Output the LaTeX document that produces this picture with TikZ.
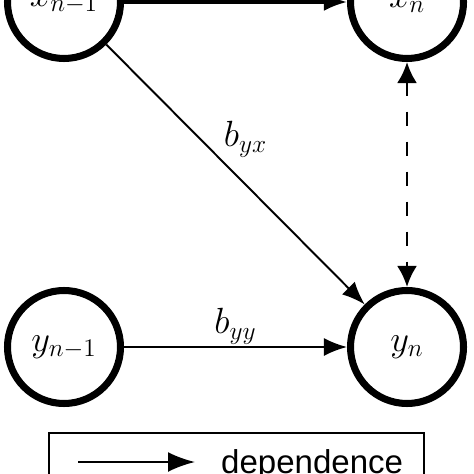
\documentclass[tikz,border=0pt]{standalone}
\usepackage{fontspec}
\newfontfamily\legendfont{Liberation Sans}
\usetikzlibrary{arrows.meta}
\tikzset{
  var/.style={circle, draw, line width=4pt, minimum size=2.26cm, inner sep=0pt, font=\huge},
  dep/.style={-{Latex[length=4.6mm,width=3.6mm]}, line width=1.1pt},
  corr/.style={{Latex[length=4.2mm,width=4mm]}-{Latex[length=4.2mm,width=4mm]}, line width=1.6pt, dash pattern=on 2.8mm off 3.2mm},
  lbl/.style={font=\huge}
}
\begin{document}
\begin{tikzpicture}
\useasboundingbox (0,0) rectangle (9.48,-9.48);
\node[var] (xprev) at (1.28,-0.04) {$x_{n-1}$};
\node[var] (xn) at (8.14,-0.04) {$x_n$};
\node[var] (yprev) at (1.28,-6.94) {$y_{n-1}$};
\node[var] (yn) at (8.14,-6.94) {$y_n$};
\draw[dep, line width=1.8pt] (xprev) -- (xn);
\draw[dep] (xprev) -- (yn) node[lbl, pos=0.46, above right, xshift=-0.16cm]{$b_{yx}$};
\draw[dep] (yprev) -- (yn) node[lbl, midway, above, inner sep=1pt]{$b_{yy}$};
\draw[corr] (xn) -- (yn);
% legend
\draw[line width=0.6pt] (0.98,-8.66) rectangle (8.48,-9.9);
\coordinate (legs) at (1.56,-9.24);
\coordinate (lege) at (3.9,-9.24);
\draw[-{Latex[length=5.4mm,width=4mm]}, line width=1.4pt] (legs) -- (lege);
\node[anchor=west, font=\legendfont\fontsize{18.8}{22}\selectfont] (legtext) at (4.3,-9.3) {dependence};
\end{tikzpicture}
\end{document}
